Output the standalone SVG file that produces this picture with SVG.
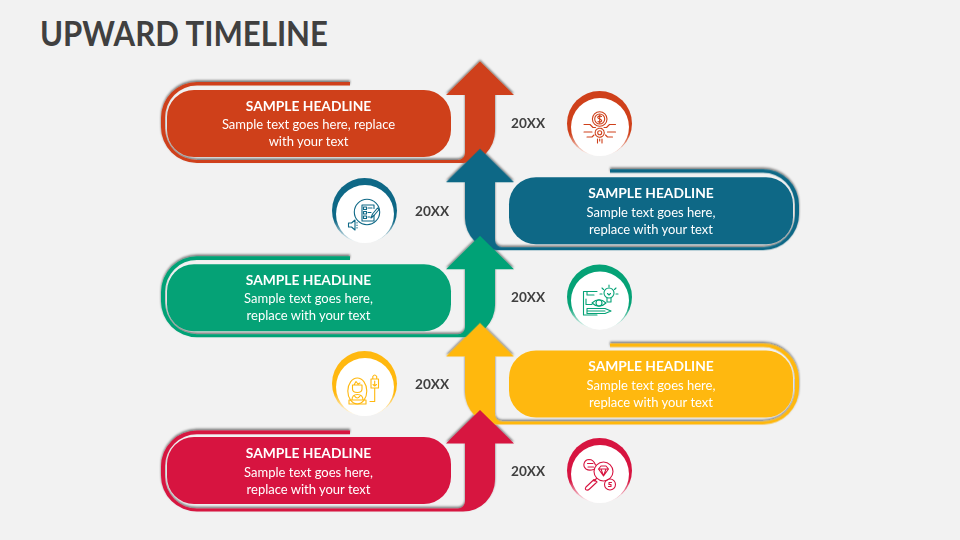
<svg xmlns="http://www.w3.org/2000/svg" width="960" height="540" viewBox="0 0 960 540">
<style>
text{font-family:Lato,"Liberation Sans",sans-serif;text-anchor:middle}
.t{font-size:34px;font-weight:700;fill:#404040;text-anchor:start}
.h{font-size:13.8px;font-weight:700;fill:#fff}
.b{font-size:13px;fill:#fff}
.y{font-size:13.6px;font-weight:700;fill:#404040}
.in{fill:#fff}
.ic{fill:none;stroke-width:1.1;stroke-linejoin:round;stroke-linecap:round}
</style>
<defs>
<filter id="sh" x="-10%" y="-15%" width="120%" height="130%">
<feDropShadow dx="0" dy="-1.6" stdDeviation="1.1" flood-color="#000" flood-opacity="0.55"/>
</filter>
<path id="band" d="M350 82H197A36 36 0 0 0 161 118V127A36 36 0 0 0 197 163H463A32 32 0 0 0 495 131V95H514L480 61.5L446 95H465V153A7 7 0 0 1 458 160H197A32 32 0 0 1 165 128V118A32 32 0 0 1 197 85.6H350Z"/>
<linearGradient id="gr" x1="0" y1="0" x2="0" y2="1"><stop offset=".65" stop-color="#cf401a"/><stop offset="1" stop-color="#fff"/></linearGradient>
<linearGradient id="gt" x1="0" y1="0" x2="0" y2="1"><stop offset=".65" stop-color="#0e6886"/><stop offset="1" stop-color="#fff"/></linearGradient>
<linearGradient id="gg" x1="0" y1="0" x2="0" y2="1"><stop offset=".65" stop-color="#05a276"/><stop offset="1" stop-color="#fff"/></linearGradient>
<linearGradient id="gy" x1="0" y1="0" x2="0" y2="1"><stop offset=".65" stop-color="#ffb80f"/><stop offset="1" stop-color="#fff"/></linearGradient>
<linearGradient id="gc" x1="0" y1="0" x2="0" y2="1"><stop offset=".65" stop-color="#d71440"/><stop offset="1" stop-color="#fff"/></linearGradient>
</defs>
<rect width="960" height="540" fill="#f2f2f2"/>
<text class="t" x="40" y="46" textLength="288" lengthAdjust="spacingAndGlyphs">UPWARD TIMELINE</text>
<g id="connectors" filter="url(#sh)">
<use href="#band" fill="#cf401a"/>
<use href="#band" fill="#0e6886" transform="translate(960 87.2) scale(-1 1)"/>
<use href="#band" fill="#05a276" transform="translate(0 174.3)"/>
<use href="#band" fill="#ffb80f" transform="translate(960 261.5) scale(-1 1)"/>
<use href="#band" fill="#d71440" transform="translate(0 348.6)"/>
</g>
<g id="node-1">
<rect x="167" y="90" width="284" height="67" rx="27" fill="#cf401a"/>
<text class="h" x="308.500" y="110.700">SAMPLE HEADLINE</text>
<text class="b" x="308.500" y="129">Sample text goes here, replace</text>
<text class="b" x="308.500" y="146">with your text</text>
<text class="y" x="528" y="128">20XX</text>
<circle cx="599.500" cy="123.500" r="32.500" fill="url(#gr)"/><circle class="in" cx="600" cy="127" r="29"/>
<g class="ic" stroke="#cf401a" transform="translate(560 85)">
<circle cx="39.700" cy="34" r="7.300"/><circle cx="39.700" cy="34" r="5"/>
<path d="M41.500 31.500Q39.700 30.200 38.200 31.500T39.700 34T41.200 36.500T38 36.500M39.700 29.800V38.200"/>
<circle cx="39.700" cy="47.700" r="4.500" stroke-dasharray="1.600 .6"/><circle cx="39.700" cy="47.700" r="2"/>
<path d="M24 39.500H30L33 42.500H35.500M24 47H32M27 52H32L34 50M55.500 39.500H49.500L46.500 42.500H44M55.500 47H47.500M52.500 52H47.500L45.500 50M37.500 54V58M42 54V58M39.700 54V56"/>
</g>
</g>
<g id="node-2">
<rect x="509" y="177.200" width="284" height="67" rx="27" fill="#0e6886"/>
<text class="h" x="651" y="197.900">SAMPLE HEADLINE</text>
<text class="b" x="651" y="217">Sample text goes here,</text>
<text class="b" x="651" y="234">replace with your text</text>
<text class="y" x="432" y="215.700">20XX</text>
<circle cx="364.500" cy="210.500" r="32.500" fill="url(#gt)"/><circle class="in" cx="365" cy="214" r="29"/>
<g class="ic" stroke="#0e6886" transform="translate(325 172)">
<circle cx="42" cy="40" r="12.700"/>
<path d="M49 36.500V33H37V49H49V43"/>
<path d="M38.500 35H41.500V37.500H38.500ZM38.500 39.500H41.500V42H38.500ZM38.500 44H41.500V46.500H38.500ZM43 36H47M43 40.500H46M43 45H45M46 46L47.500 42L52.500 36L54 37.500L49 43.500Z"/>
<path d="M23.500 51H26.500L30 48V58L26.500 55H23.500ZM32 50.500V51M32 53V53.500M32 55.500V56"/>
</g>
</g>
<g id="node-3">
<rect x="167" y="264.300" width="284" height="67" rx="27" fill="#05a276"/>
<text class="h" x="308.500" y="285">SAMPLE HEADLINE</text>
<text class="b" x="308.500" y="303.300">Sample text goes here,</text>
<text class="b" x="308.500" y="320.300">replace with your text</text>
<text class="y" x="528" y="302">20XX</text>
<circle cx="599.500" cy="297" r="32.500" fill="url(#gg)"/><circle class="in" cx="600" cy="300.500" r="29"/>
<g class="ic" stroke="#05a276" transform="translate(560 258)">
<path d="M37 33.500H23.500V57H37M27 37H34M26 41V46.500H32M27 33.500V37"/>
<path d="M32 45Q39 38.500 46 45Q39 51.500 32 45Z"/><circle cx="39" cy="45" r="3"/>
<path d="M27 50.500H45L51 53L45 55.500H27ZM27 53H45"/>
<circle cx="49" cy="35" r="5"/><path d="M47 40V44H51V40M47.500 35.500L49 37L50.500 35.500M49 27V29M42 30L43.500 31.500M56 30L54.500 31.500M40 36H42M56 36H58"/>
</g>
</g>
<g id="node-4">
<rect x="509" y="350.500" width="284" height="67" rx="27" fill="#ffb80f"/>
<text class="h" x="651" y="371.200">SAMPLE HEADLINE</text>
<text class="b" x="651" y="389.500">Sample text goes here,</text>
<text class="b" x="651" y="406.500">replace with your text</text>
<text class="y" x="432" y="389">20XX</text>
<circle cx="364.500" cy="383.500" r="32.500" fill="url(#gy)"/><circle class="in" cx="365" cy="387" r="29"/>
<g class="ic" stroke="#ffb80f" transform="translate(325 345)">
<ellipse cx="32.300" cy="46" rx="9.500" ry="13"/>
<path d="M24 55H41V59H24ZM27.500 40H37V44Q37 47.500 32.300 47.500Q27.500 47.500 27.500 44ZM29 40L31 36.500L33 39L35 38M27 55Q27 49.500 32.300 49.500Q38 49.500 38 55M29.500 51Q32.300 55 35 51"/>
<path d="M46 34H53.500V43H46ZM47.800 34V31.500Q49.700 28.500 51.700 31.500V34M49.700 36V41M48 39.500L49.700 41L51.500 39.500M49.700 43V56.500H45"/>
</g>
</g>
<g id="node-5">
<rect x="167" y="437" width="284" height="67" rx="27" fill="#d71440"/>
<text class="h" x="308.500" y="458">SAMPLE HEADLINE</text>
<text class="b" x="308.500" y="477">Sample text goes here,</text>
<text class="b" x="308.500" y="494">replace with your text</text>
<text class="y" x="528" y="476">20XX</text>
<circle cx="599.500" cy="470.500" r="32.500" fill="url(#gc)"/><circle class="in" cx="600" cy="474" r="29"/>
<g class="ic" stroke="#d71440" transform="translate(560 432)">
<circle cx="43.500" cy="39.500" r="9.500"/>
<path d="M38.500 37L41 34H46L48.500 37L43.500 44ZM38.500 37H48.500M41 37L43.500 44L46 37"/>
<path d="M36.500 46.500L34 49M34 47.500L26 55Q24.500 57.500 26.500 58Q28 58.500 29.500 57L37 50ZM35.500 33Q33.500 27.500 29 27.500A5.300 5.300 0 0 0 26 37Q29 39 33.500 37.500M27.500 31.500H33M28 35H33.500"/>
<circle cx="50" cy="52.500" r="5.500"/><path d="M51.500 50.500H49V52.500H51V54.500H48.500"/>
</g>
</g>
</svg>
